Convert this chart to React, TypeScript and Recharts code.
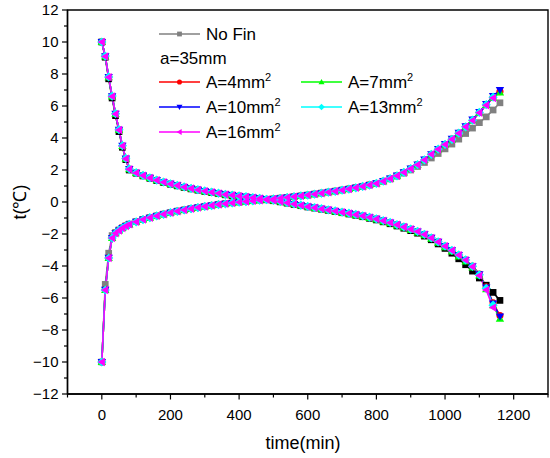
import React from "react";
import { LineChart, Line, XAxis, YAxis, ReferenceArea, Legend } from "recharts";

// sampling times (min)
const times = [
  0, 10, 20, 30, 40, 50, 60, 70, 80,
  100, 120, 140, 160, 180, 200, 220, 240, 260, 280,
  300, 320, 340, 360, 380, 400, 420, 440, 460, 480,
  500, 520, 540, 560, 580, 600, 620, 640, 660, 680,
  700, 720, 740, 760, 780, 800, 820, 840, 860, 880,
  900, 920, 940, 960, 980, 1000, 1020, 1040, 1060, 1080,
  1100, 1120, 1140, 1160,
];

// warm side, cooling down from 10
const noFinHot = [
  10, 9.05, 7.7, 6.5, 5.4, 4.4, 3.42, 2.65, 2.0,
  1.8, 1.63, 1.48, 1.34, 1.22, 1.11, 1.01, 0.91, 0.82, 0.74,
  0.66, 0.59, 0.52, 0.45, 0.4, 0.35, 0.3, 0.25, 0.2, 0.14,
  0.08, 0.01, -0.07, -0.15, -0.23, -0.31, -0.38, -0.45, -0.52, -0.6,
  -0.67, -0.75, -0.83, -0.92, -1.02, -1.12, -1.24, -1.36, -1.5, -1.64,
  -1.79, -1.95, -2.13, -2.36, -2.62, -2.9, -3.2, -3.55, -3.92, -4.32,
  -4.75, -5.2, -5.65, -6.15,
];
const a4Hot = [
  10, 9.11, 7.81, 6.61, 5.51, 4.51, 3.51, 2.71, 2.06,
  1.83, 1.66, 1.51, 1.37, 1.25, 1.14, 1.04, 0.94, 0.85, 0.77,
  0.69, 0.62, 0.55, 0.48, 0.43, 0.38, 0.33, 0.28, 0.23, 0.17,
  0.11, 0.04, -0.04, -0.12, -0.2, -0.28, -0.35, -0.42, -0.49, -0.56,
  -0.63, -0.7, -0.78, -0.86, -0.95, -1.05, -1.16, -1.28, -1.41, -1.55,
  -1.69, -1.84, -2.02, -2.24, -2.49, -2.75, -3.02, -3.31, -3.62, -4.0,
  -4.5, -5.3, -6.3, -7.1,
];
const a7Hot = [
  10, 9.1, 7.8, 6.6, 5.5, 4.5, 3.5, 2.7, 2.05,
  1.82, 1.65, 1.5, 1.36, 1.24, 1.13, 1.03, 0.93, 0.84, 0.76,
  0.68, 0.61, 0.54, 0.47, 0.42, 0.37, 0.32, 0.27, 0.22, 0.16,
  0.1, 0.03, -0.05, -0.13, -0.21, -0.29, -0.37, -0.44, -0.51, -0.59,
  -0.67, -0.74, -0.82, -0.91, -1.0, -1.1, -1.21, -1.33, -1.46, -1.6,
  -1.75, -1.9, -2.08, -2.3, -2.55, -2.82, -3.1, -3.4, -3.72, -4.1,
  -4.6, -5.45, -6.45, -7.3,
];
const a10Hot = [
  10, 9.11, 7.81, 6.61, 5.51, 4.51, 3.51, 2.71, 2.06,
  1.83, 1.66, 1.51, 1.37, 1.25, 1.14, 1.04, 0.94, 0.85, 0.77,
  0.69, 0.62, 0.55, 0.48, 0.43, 0.38, 0.33, 0.28, 0.23, 0.17,
  0.11, 0.04, -0.04, -0.12, -0.2, -0.28, -0.35, -0.42, -0.49, -0.56,
  -0.63, -0.7, -0.78, -0.86, -0.95, -1.05, -1.16, -1.28, -1.41, -1.55,
  -1.69, -1.84, -2.02, -2.24, -2.49, -2.75, -3.02, -3.31, -3.62, -4.02,
  -4.52, -5.35, -6.35, -7.15,
];
const a13Hot = [
  10, 9.12, 7.82, 6.62, 5.52, 4.52, 3.52, 2.72, 2.07,
  1.83, 1.66, 1.51, 1.37, 1.25, 1.14, 1.04, 0.94, 0.85, 0.77,
  0.69, 0.62, 0.55, 0.48, 0.43, 0.38, 0.33, 0.28, 0.23, 0.17,
  0.11, 0.04, -0.04, -0.12, -0.2, -0.28, -0.35, -0.42, -0.49, -0.56,
  -0.63, -0.7, -0.78, -0.86, -0.95, -1.05, -1.16, -1.28, -1.41, -1.55,
  -1.69, -1.84, -2.02, -2.24, -2.49, -2.75, -3.02, -3.31, -3.62, -4.02,
  -4.55, -5.4, -6.45, null,
];
const a16Hot = [
  10, 9.1, 7.8, 6.6, 5.5, 4.5, 3.5, 2.7, 2.05,
  1.82, 1.65, 1.5, 1.36, 1.24, 1.13, 1.03, 0.93, 0.84, 0.76,
  0.68, 0.61, 0.54, 0.47, 0.42, 0.37, 0.32, 0.27, 0.22, 0.16,
  0.1, 0.03, -0.05, -0.13, -0.21, -0.29, -0.36, -0.43, -0.5, -0.57,
  -0.64, -0.71, -0.79, -0.87, -0.96, -1.06, -1.17, -1.29, -1.42, -1.56,
  -1.7, -1.85, -2.03, -2.25, -2.5, -2.76, -3.03, -3.32, -3.63, -4.05,
  -4.6, -5.5, -6.6, null,
];

// cold side, warming up from -10
const noFinCold = [
  -10, -5.15, -3.2, -2.1, -1.9, -1.74, -1.6, -1.48, -1.38,
  -1.23, -1.09, -0.97, -0.86, -0.76, -0.66, -0.57, -0.49, -0.41, -0.34,
  -0.27, -0.21, -0.15, -0.1, -0.05, 0.0, 0.04, 0.08, 0.12, 0.16,
  0.2, 0.24, 0.29, 0.34, 0.39, 0.44, 0.5, 0.56, 0.62, 0.68,
  0.75, 0.82, 0.9, 0.98, 1.07, 1.16, 1.29, 1.44, 1.61, 1.8,
  2.0, 2.22, 2.47, 2.75, 3.03, 3.32, 3.62, 3.93, 4.28, 4.62,
  4.96, 5.32, 5.75, 6.2,
];
const a4Cold = [
  -10, -5.48, -3.48, -2.24, -1.94, -1.77, -1.62, -1.49, -1.39,
  -1.23, -1.09, -0.97, -0.86, -0.76, -0.66, -0.57, -0.49, -0.41, -0.34,
  -0.27, -0.21, -0.15, -0.1, -0.05, 0.0, 0.04, 0.08, 0.12, 0.16,
  0.2, 0.24, 0.29, 0.34, 0.39, 0.44, 0.5, 0.56, 0.62, 0.68,
  0.75, 0.82, 0.9, 0.98, 1.07, 1.17, 1.31, 1.47, 1.65, 1.86,
  2.09, 2.34, 2.64, 2.98, 3.3, 3.6, 3.93, 4.31, 4.71, 5.12,
  5.6, 6.08, 6.55, 6.9,
];
const a7Cold = [
  -10, -5.5, -3.5, -2.25, -1.95, -1.78, -1.63, -1.5, -1.4,
  -1.24, -1.1, -0.98, -0.87, -0.77, -0.67, -0.58, -0.5, -0.42, -0.35,
  -0.28, -0.22, -0.16, -0.11, -0.06, -0.01, 0.03, 0.07, 0.11, 0.15,
  0.19, 0.23, 0.28, 0.33, 0.38, 0.43, 0.49, 0.55, 0.61, 0.67,
  0.74, 0.81, 0.89, 0.97, 1.06, 1.16, 1.3, 1.46, 1.64, 1.85,
  2.08, 2.33, 2.63, 2.97, 3.29, 3.59, 3.91, 4.29, 4.69, 5.1,
  5.58, 6.06, 6.52, 6.85,
];
const a10Cold = [
  -10, -5.49, -3.49, -2.25, -1.95, -1.78, -1.63, -1.5, -1.4,
  -1.24, -1.1, -0.98, -0.87, -0.77, -0.67, -0.58, -0.5, -0.42, -0.35,
  -0.28, -0.22, -0.16, -0.11, -0.06, -0.01, 0.03, 0.07, 0.11, 0.15,
  0.19, 0.23, 0.28, 0.33, 0.38, 0.43, 0.49, 0.55, 0.61, 0.67,
  0.74, 0.81, 0.89, 0.97, 1.06, 1.17, 1.31, 1.47, 1.65, 1.86,
  2.09, 2.35, 2.65, 2.99, 3.31, 3.62, 3.95, 4.33, 4.73, 5.15,
  5.62, 6.12, 6.62, 7.0,
];
const a13Cold = [
  -10, -5.5, -3.5, -2.25, -1.95, -1.78, -1.63, -1.5, -1.4,
  -1.24, -1.1, -0.98, -0.87, -0.77, -0.67, -0.58, -0.5, -0.42, -0.35,
  -0.28, -0.22, -0.16, -0.11, -0.06, -0.01, 0.03, 0.07, 0.11, 0.15,
  0.19, 0.23, 0.28, 0.33, 0.38, 0.43, 0.49, 0.55, 0.61, 0.67,
  0.74, 0.81, 0.89, 0.97, 1.06, 1.16, 1.3, 1.46, 1.64, 1.85,
  2.08, 2.33, 2.63, 2.98, 3.3, 3.6, 3.92, 4.3, 4.7, 5.11,
  5.6, 6.08, 6.55, null,
];
const a16Cold = [
  -10, -5.5, -3.5, -2.25, -1.95, -1.78, -1.63, -1.5, -1.4,
  -1.24, -1.1, -0.98, -0.87, -0.77, -0.67, -0.58, -0.5, -0.42, -0.35,
  -0.28, -0.22, -0.16, -0.11, -0.06, -0.01, 0.03, 0.07, 0.11, 0.15,
  0.19, 0.23, 0.28, 0.33, 0.38, 0.43, 0.49, 0.55, 0.61, 0.67,
  0.74, 0.81, 0.89, 0.97, 1.06, 1.16, 1.3, 1.46, 1.64, 1.85,
  2.08, 2.33, 2.63, 2.98, 3.3, 3.6, 3.92, 4.3, 4.7, 5.1,
  5.58, 6.05, 6.5, null,
];

const xTicks = [-100, 0, 100, 200, 300, 400, 500, 600, 700, 800, 900, 1000, 1100, 1200, 1300];
const yTicks = [-12, -11, -10, -9, -8, -7, -6, -5, -4, -3, -2, -1, 0, 1, 2, 3, 4, 5, 6, 7, 8, 9, 10, 11, 12];

const data = times.map((t, i) => ({
  t,
  nfH: noFinHot[i], nfC: noFinCold[i],
  a4H: a4Hot[i], a4C: a4Cold[i],
  a7H: a7Hot[i], a7C: a7Cold[i],
  a10H: a10Hot[i], a10C: a10Cold[i],
  a13H: a13Hot[i], a13C: a13Cold[i],
  a16H: a16Hot[i], a16C: a16Cold[i],
}));

const FONT = "'Liberation Sans', Arial, sans-serif";

type Shape = "square" | "circle" | "triUp" | "triDown" | "diamond" | "triLeft";

// s = half size of the marker
function marker(shape: Shape, cx: number, cy: number, color: string, s: number, key?: any) {
  const k = s * 0.72;
  switch (shape) {
    case "square":
      return <rect key={key} x={cx - s * 0.8} y={cy - s * 0.8} width={s * 1.6} height={s * 1.6} fill={color} />;
    case "circle":
      return <circle key={key} cx={cx} cy={cy} r={s * 0.85} fill={color} />;
    case "triUp":
      return <polygon key={key} points={`${cx},${cy - s} ${cx - s},${cy + k} ${cx + s},${cy + k}`} fill={color} />;
    case "triDown":
      return <polygon key={key} points={`${cx},${cy + s} ${cx - s},${cy - k} ${cx + s},${cy - k}`} fill={color} />;
    case "diamond":
      return <polygon key={key} points={`${cx},${cy - s * 1.1} ${cx + s * 1.1},${cy} ${cx},${cy + s * 1.1} ${cx - s * 1.1},${cy}`} fill={color} />;
    default:
      return <polygon key={key} points={`${cx - s},${cy} ${cx + k},${cy - s} ${cx + k},${cy + s}`} fill={color} />;
  }
}

const makeDot = (shape: Shape, color: string) => (props: any) => {
  const { cx, cy, index, value } = props;
  if (cx == null || cy == null || value == null) return <g key={index} />;
  return marker(shape, cx, cy, color, 4.2, index);
};

const series = [
  { key: "nfC", color: "#808080", shape: "square" as Shape },
  { key: "nfH", color: "#000000", shape: "square" as Shape },
  { key: "a4C", color: "#ff0000", shape: "circle" as Shape },
  { key: "a4H", color: "#ff0000", shape: "circle" as Shape },
  { key: "a7C", color: "#00ff00", shape: "triUp" as Shape },
  { key: "a7H", color: "#00ff00", shape: "triUp" as Shape },
  { key: "a10C", color: "#0000ff", shape: "triDown" as Shape },
  { key: "a10H", color: "#0000ff", shape: "triDown" as Shape },
  { key: "a13C", color: "#00ffff", shape: "diamond" as Shape },
  { key: "a13H", color: "#00ffff", shape: "diamond" as Shape },
  { key: "a16C", color: "#ff00ff", shape: "triLeft" as Shape },
  { key: "a16H", color: "#ff00ff", shape: "triLeft" as Shape },
];

const fmt = (v: number) => (v < 0 ? "\u2212" + Math.abs(v) : String(v));

const XTick = (props: any) => {
  const { x, y, payload } = props;
  const v = payload.value;
  const major = v % 200 === 0;
  return (
    <g>
      <line x1={x} y1={y} x2={x} y2={y + (major ? 5.5 : 3.5)} stroke="#000" strokeWidth={1.2} />
      {major && v >= 0 && v <= 1200 && (
        <text x={x} y={y + 26} textAnchor="middle" fontSize={15} fontFamily={FONT} fill="#000">
          {v}
        </text>
      )}
    </g>
  );
};

const YTick = (props: any) => {
  const { x, y, payload } = props;
  const v = payload.value;
  const major = v % 2 === 0;
  return (
    <g>
      <line x1={x} y1={y} x2={x - (major ? 5.5 : 3.5)} y2={y} stroke="#000" strokeWidth={1.2} />
      {major && (
        <text x={x - 9} y={y + 5} textAnchor="end" fontSize={15} fontFamily={FONT} fill="#000">
          {fmt(v)}
        </text>
      )}
    </g>
  );
};

const legendRows = [
  { label: "A=4mm", color: "#ff0000", shape: "circle" as Shape, col: 0, row: 2 },
  { label: "A=7mm", color: "#00ff00", shape: "triUp" as Shape, col: 1, row: 2 },
  { label: "A=10mm", color: "#0000ff", shape: "triDown" as Shape, col: 0, row: 3 },
  { label: "A=13mm", color: "#00ffff", shape: "diamond" as Shape, col: 1, row: 3 },
  { label: "A=16mm", color: "#ff00ff", shape: "triLeft" as Shape, col: 0, row: 4 },
];
const rowY = [19, 43, 67, 92, 117];

const ChartLegend = () => (
  <svg width={300} height={132} style={{ display: "block", overflow: "visible" }}>
    <line x1={9} y1={rowY[0]} x2={50} y2={rowY[0]} stroke="#808080" strokeWidth={1.5} />
    {marker("square", 29.5, rowY[0], "#808080", 3)}
    <text x={56} y={rowY[0] + 6} fontSize={17} fontFamily={FONT}>No Fin</text>
    <text x={10} y={rowY[1] + 6} fontSize={17} fontFamily={FONT}>a=35mm</text>
    {legendRows.map((r) => {
      const x0 = r.col === 0 ? 9 : 151;
      const y = rowY[r.row];
      return (
        <g key={r.label}>
          <line x1={x0} y1={y} x2={x0 + 41} y2={y} stroke={r.color} strokeWidth={1.5} />
          {marker(r.shape, x0 + 20.5, y, r.color, 3)}
          <text x={x0 + 47} y={y + 6} fontSize={17} fontFamily={FONT}>
            {r.label}
            <tspan dy={-7} fontSize={11}>2</tspan>
          </text>
        </g>
      );
    })}
  </svg>
);

export default function App() {
  return (
    <div style={{ position: "absolute", left: 0, top: 0, background: "#fff" }}>
      <LineChart width={550} height={458} data={data} margin={{ top: 10, right: 2, bottom: 0, left: 0 }}>
        <XAxis
          dataKey="t"
          type="number"
          domain={[-100, 1300]}
          ticks={xTicks}
          interval={0}
          tickSize={0}
          tickMargin={0}
          tickLine={false}
          tick={<XTick />}
          height={64}
          axisLine={{ stroke: "#000", strokeWidth: 1.4 }}
          allowDataOverflow
          label={{
            content: () => (
              <text x={303} y={449} textAnchor="middle" fontSize={18} fontFamily={FONT} fill="#000">
                time(min)
              </text>
            ),
          }}
        />
        <YAxis
          type="number"
          domain={[-12, 12]}
          ticks={yTicks}
          interval={0}
          tickSize={0}
          tickMargin={0}
          tickLine={false}
          tick={<YTick />}
          width={67.5}
          axisLine={{ stroke: "#000", strokeWidth: 1.4 }}
          allowDataOverflow
          label={{
            content: () => (
              <text
                x={0}
                y={0}
                transform="translate(26,202) rotate(-90)"
                textAnchor="middle"
                fontSize={18}
                fontFamily={FONT}
                fill="#000"
              >
                t(℃)
              </text>
            ),
          }}
        />
        <ReferenceArea x1={-100} x2={1300} y1={-12} y2={12} fill="none" stroke="#000" strokeWidth={1.4} ifOverflow="visible" />
        <Legend
          layout="horizontal"
          verticalAlign="middle"
          align="center"
          wrapperStyle={{ position: "absolute", left: 150, top: 15, width: 300, height: 132 }}
          content={() => <ChartLegend />}
        />
        {series.map((s) => (
          <Line
            key={s.key}
            dataKey={s.key}
            stroke={s.color}
            strokeWidth={1.6}
            dot={makeDot(s.shape, s.color)}
            activeDot={false}
            legendType="none"
            connectNulls={false}
            isAnimationActive={false}
          />
        ))}
      </LineChart>
    </div>
  );
}
